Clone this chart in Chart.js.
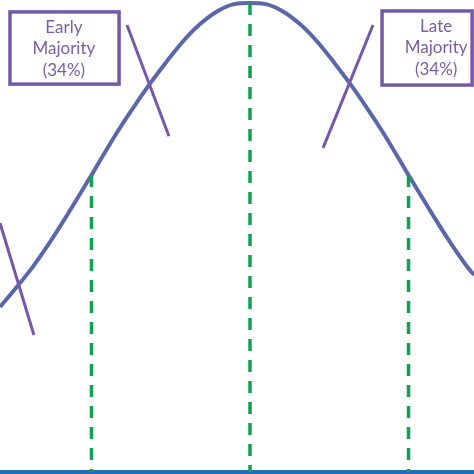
<!DOCTYPE html>
<html>
<head>
<meta charset="utf-8">
<script src="https://cdn.jsdelivr.net/npm/chart.js@4/dist/chart.umd.min.js"></script>
<style>
  html, body { margin: 0; padding: 0; background: #fff; }
  #wrap { width: 474px; height: 474px; }
</style>
</head>
<body>
<div id="wrap"><canvas id="bell"></canvas></div>
<script>
// x in standard deviations from the mean, y as share of peak height
const curveX = [-1.577, -1.47, -1.369, -1.262, -1.155, -1.054, -1, -0.946, -0.839, -0.738,
    -0.631, -0.524, -0.423, -0.315, -0.208, -0.107, 0, 0.107, 0.208, 0.315, 0.423, 0.524,
    0.631, 0.738, 0.839, 0.946, 1, 1.054, 1.155, 1.262, 1.369, 1.413];
const curveY = [0.352, 0.395, 0.438, 0.490, 0.547, 0.603, 0.633, 0.664, 0.724, 0.776,
    0.828, 0.876, 0.918, 0.955, 0.982, 0.997, 1.0, 0.997, 0.982, 0.955, 0.918, 0.876,
    0.828, 0.776, 0.724, 0.664, 0.633, 0.603, 0.547, 0.490, 0.438, 0.420];

const sdLines = [-1, 0, 1];
const sdTops = [0.633, 1.0, 0.633];

// separator strokes between segments [x1, y1, x2, y2]
const sepA = [-1.577, 0.531, -1.363, 0.292];
const sepB = [-0.776, 0.953, -0.511, 0.716];
const sepC = [0.776, 0.953, 0.461, 0.691];

const boxLabels = [["Early", "Majority", "(34%)"], ["Late", "Majority", "(34%)"]];
// [left, right, top, bottom, text centre]
const boxPos = [[-1.514, -0.826, 0.981, 0.827, -1.174], [0.833, 1.401, 0.983, 0.825, 1.174]];

const xMin = -1.577, xMax = 1.413;
const yMin = -0.0043, yMax = 1.0064;

const purple = "#7558a8";

function pts(xs, ys) {
    return xs.map((x, i) => ({ x: x, y: ys[i] }));
}

const datasets = [];
sdLines.forEach((x, i) => {
    datasets.push({
        data: [{ x: x, y: sdTops[i] }, { x: x, y: 0 }],
        borderColor: "#12a150",
        borderWidth: 3.5,
        borderDash: [12, 9],
        pointRadius: 0,
        fill: false
    });
});
[sepA, sepB, sepC].forEach(s => {
    datasets.push({
        data: [{ x: s[0], y: s[1] }, { x: s[2], y: s[3] }],
        borderColor: purple,
        borderWidth: 3,
        pointRadius: 0,
        fill: false
    });
});
datasets.push({
    data: pts(curveX, curveY),
    borderColor: "#5a68aa",
    borderWidth: 4,
    pointRadius: 0,
    cubicInterpolationMode: "monotone",
    fill: false
});
datasets.push({
    data: [{ x: xMin, y: 0 }, { x: xMax, y: 0 }],
    borderColor: "#1f6db5",
    borderWidth: 4,
    pointRadius: 0,
    fill: false
});

const boxes = {
    id: "boxes",
    afterDatasetsDraw(chart) {
        const ctx = chart.ctx;
        const sx = chart.scales.x, sy = chart.scales.y;
        ctx.save();
        boxPos.forEach((b, i) => {
            const l = sx.getPixelForValue(b[0]), r = sx.getPixelForValue(b[1]);
            const t = sy.getPixelForValue(b[2]), btm = sy.getPixelForValue(b[3]);
            ctx.fillStyle = "#fff";
            ctx.fillRect(l, t, r - l, btm - t);
            ctx.strokeStyle = purple;
            ctx.lineWidth = 3.5;
            ctx.strokeRect(l, t, r - l, btm - t);
            ctx.fillStyle = "#7a5ea6";
            ctx.font = "17px Lato";
            ctx.textAlign = "center";
            ctx.textBaseline = "middle";
            const cx = sx.getPixelForValue(b[4]);
            boxLabels[i].forEach((s, j) => {
                ctx.fillText(s, cx, t + 15.5 + j * 21.5);
            });
        });
        ctx.restore();
    }
};

new Chart(document.getElementById("bell"), {
    type: "line",
    data: { datasets: datasets },
    options: {
        responsive: true,
        maintainAspectRatio: false,
        animation: false,
        layout: { padding: 0 },
        plugins: { legend: { display: false }, tooltip: { enabled: false } },
        scales: {
            x: { type: "linear", min: xMin, max: xMax, display: false },
            y: { min: yMin, max: yMax, display: false }
        }
    },
    plugins: [boxes]
});
</script>
</body>
</html>
